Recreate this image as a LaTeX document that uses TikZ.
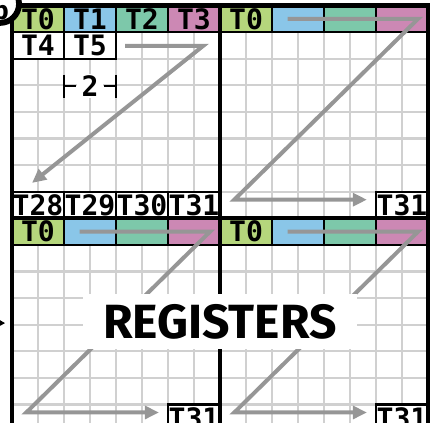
\documentclass[tikz,border=0pt]{standalone}
\usepackage{fontspec}
\setsansfont{Fira Sans}
\newfontfamily\cellfont{DejaVu Sans Mono}
\usetikzlibrary{arrows.meta}

\definecolor{tgreen}{RGB}{181,214,124}
\definecolor{tblue}{RGB}{138,198,232}
\definecolor{tteal}{RGB}{125,200,170}
\definecolor{tpink}{RGB}{204,136,180}
\definecolor{gridgray}{RGB}{208,208,208}
\definecolor{flowgray}{RGB}{150,150,150}

\tikzset{
  gridline/.style={draw=gridgray, line width=2pt},
  border/.style={line width=3.6pt, line cap=rect},
  thread/.style={draw, line width=1.8pt, fill=white, inner sep=0pt,
    minimum width=1.56cm, minimum height=0.798cm,
    font=\cellfont\bfseries\fontsize{24}{24}\selectfont},
  dimline/.style={line width=1.8pt},
  flow/.style={draw=flowgray, line width=3.4pt,
    -{Triangle[length=12pt,width=11pt]}},
}

\begin{document}
\begin{tikzpicture}[x=0.78cm, y=-0.798cm]
		\useasboundingbox (-0.4615,-0.2068) rectangle (16.154,15.658);

		% grid of all four panels
		\foreach \i in {1,...,15} {
			\draw [gridline] (\i,0) -- (\i,16);
			\draw [gridline] (0,\i) -- (16,\i);
		}

		% first panel
		\node [thread, fill=tgreen] (a0) at (1,0.5) {T0};
		\node [thread, fill=tblue] (a1) at (3,0.5) {T1};
		\node [thread, fill=tteal] (a2) at (5,0.5) {T2};
		\node [thread, fill=tpink] (a3) at (7,0.5) {T3};
		\node [thread] (a4) at (1,1.5) {T4};
		\node [thread] (a5) at (3,1.5) {T5};
		\node [thread] (a28) at (1,7.5) {T28};
		\node [thread] (a29) at (3,7.5) {T29};
		\node [thread] (a30) at (5,7.5) {T30};
		\node [thread] (a31) at (7,7.5) {T31};

		\node [thread, draw=none, fill=white, minimum width=0pt, minimum height=0pt, inner xsep=4pt, inner ysep=1pt] (gap) at (3,3.03) {2};
		\coordinate (gapl) at (2,3.03);
		\coordinate (gapr) at (4,3.03);
		\draw [dimline] (2,2.6) -- (2,3.46);
		\draw [dimline] (4,2.6) -- (4,3.46);
		\draw [dimline] (gapl) -- (gap);
		\draw [dimline] (gap) -- (gapr);

		\coordinate (as) at (4.35,1.52);
		\coordinate (ac) at (7.35,1.52);
		\coordinate (ae) at (0.77,6.67);
		\draw [flow] (as) -- (ac) -- (ae);

		% the other three panels
		\foreach \px/\py/\p in {8/0/b, 0/8/c, 8/8/d} {
			\begin{scope}[shift={(\px,\py)}]
				\node [thread, fill=tgreen] (\p0) at (1,0.5) {T0};
				\node [thread, fill=tblue] (\p1) at (3,0.5) {};
				\node [thread, fill=tteal] (\p2) at (5,0.5) {};
				\node [thread, fill=tpink] (\p3) at (7,0.5) {};
				\node [thread] (\p31) at (7,7.5) {T31};
				\coordinate (\p-s) at (2.6,0.5);
				\coordinate (\p-c) at (7.62,0.5);
				\coordinate (\p-e) at (0.55,7.3);
				\coordinate (\p-t) at (5.65,7.3);
				\draw [flow] (\p-s) -- (\p-c) -- (\p-e) -- (\p-t);
			\end{scope}
		}

		% panel borders
		\foreach \k in {0,8,16} {
			\draw [border] (\k,0) -- (\k,16);
			\draw [border] (0,\k) -- (16,\k);
		}

		\node [fill=white, inner xsep=0.6cm, inner ysep=0.3cm, font=\sffamily\bfseries\fontsize{41}{41}\selectfont] (regs) at (8,11.88) {REGISTERS};

		% cut-off marks at the edge
		\draw [line width=5pt, fill=white] (-0.46,-0.06) circle [radius=0.57cm];
		\node [anchor=base east, inner sep=0pt, font=\sffamily\bfseries\fontsize{22}{22}\selectfont] (sub) at (-0.115,0.545) {b};
		\fill (-0.6,11.75) -- (-0.27,11.94) -- (-0.6,12.12) -- cycle;

	\end{tikzpicture}
\end{document}
